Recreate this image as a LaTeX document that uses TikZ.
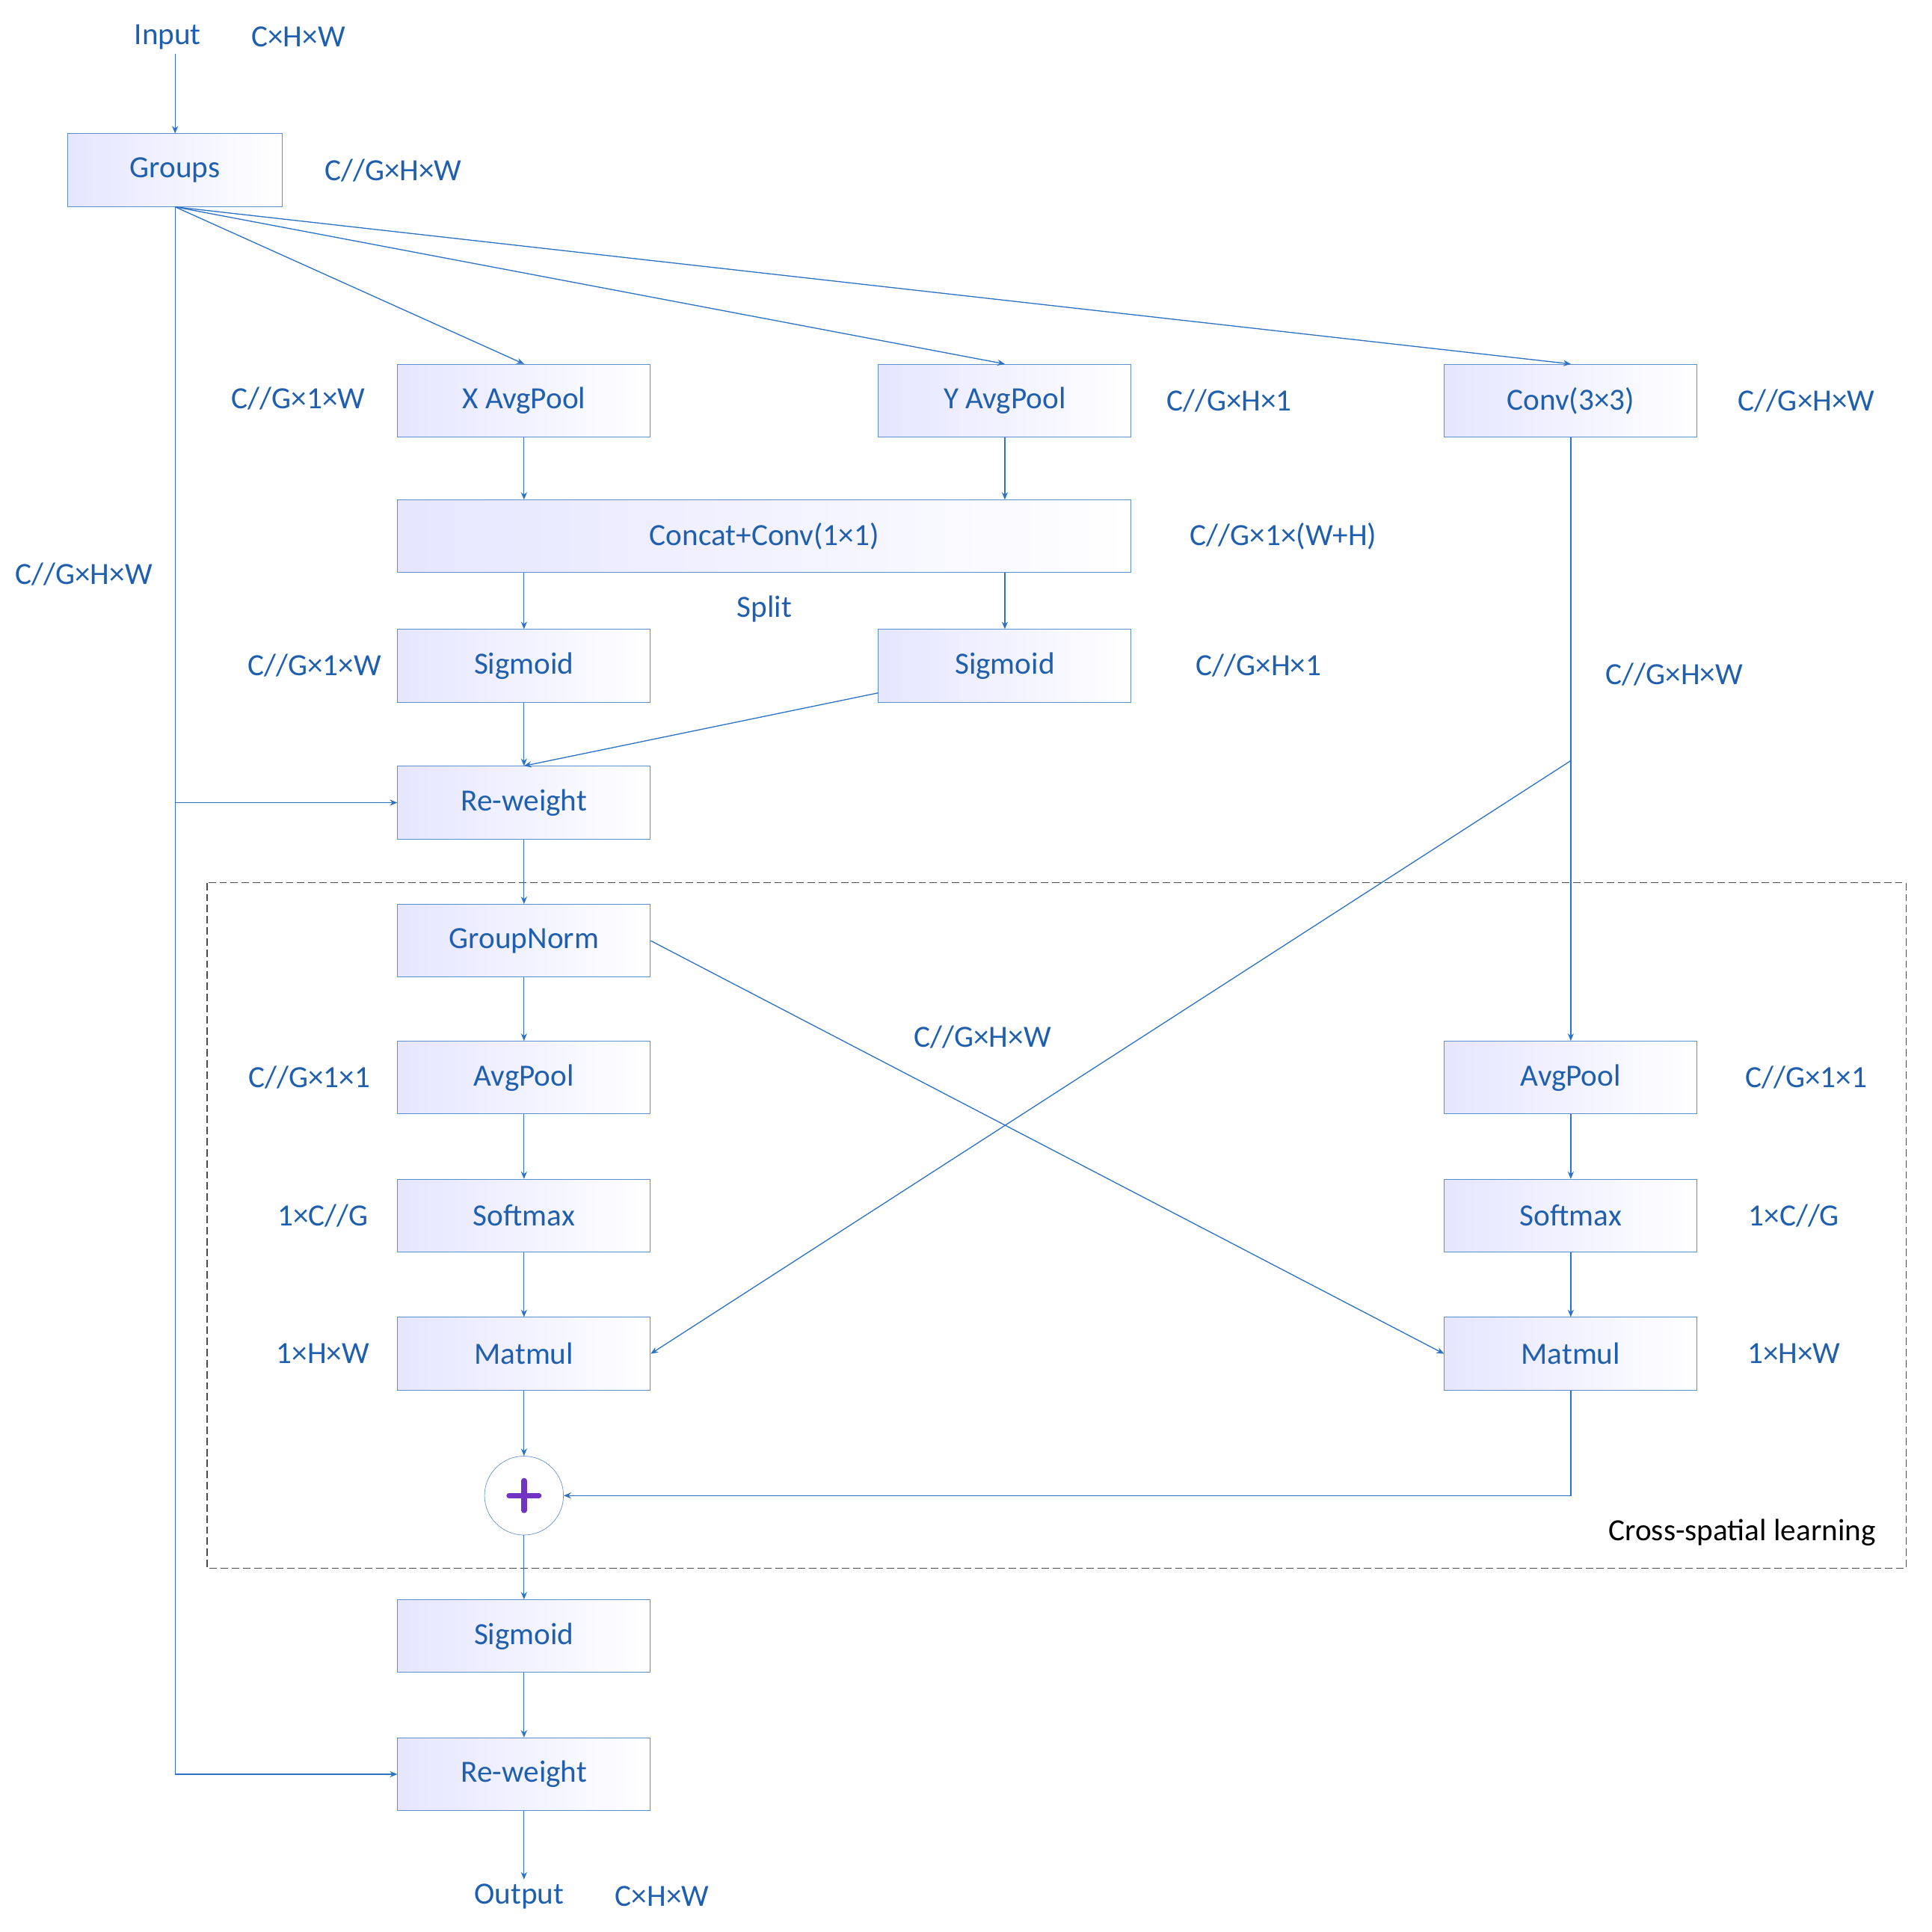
\documentclass[tikz,border=0pt]{standalone}
\usepackage{fontspec}
\setmainfont{Carlito}
\usetikzlibrary{arrows.meta,calc}
\definecolor{ln}{HTML}{2E72C4}
\definecolor{tx}{HTML}{1F5FAD}
\definecolor{bd}{HTML}{5B8FD0}
\begin{document}
\begin{tikzpicture}[x=1pt,y=-1pt,
  every node/.style={font=\fontsize{25}{29}\selectfont, text=tx},
  box/.style={draw=bd, line width=0.6pt, left color=blue!10!white, right color=white, minimum width=205pt, minimum height=59pt, inner sep=0pt},
  arr/.style={draw=ln, line width=0.8pt, -{Stealth[length=6pt,width=5pt]}},
  ln/.style={draw=ln, line width=0.8pt}]
\useasboundingbox (0,0) rectangle (1567,1567);
\node (in) at (136,30) {Input};
\node at (242,30) {C×H×W};
\node[box, minimum width=174pt] (g) at (142,138) {Groups};
\node at (319,138) {C//G×H×W};
\node[box] (xa) at (425,325) {X AvgPool};
\node[box] (ya) at (815,325) {Y AvgPool};
\node[box] (cv) at (1274,325) {Conv(3×3)};
\node at (242,323) {C//G×1×W};
\node at (997,325) {C//G×H×1};
\node at (1465,325) {C//G×H×W};
\node[box, minimum width=595pt] (cc) at (620,435) {Concat+Conv(1×1)};
\node at (1041,435) {C//G×1×(W+H)};
\node at (68,466) {C//G×H×W};
\node at (620,494) {Split};
\node[box] (s1) at (425,540) {Sigmoid};
\node[box] (s2) at (815,540) {Sigmoid};
\node at (255,540) {C//G×1×W};
\node at (1021,540) {C//G×H×1};
\node at (1358,547) {C//G×H×W};
\node[box] (rw) at (425,651) {Re-weight};
\draw[dash pattern=on 6pt off 3pt, draw=black!70, line width=0.8pt] (168,716) rectangle (1546,1272);
\node[text=black] at (1413,1243) {Cross-spatial learning};
\node[box] (gn) at (425,763) {GroupNorm};
\node[box] (ap1) at (425,874) {AvgPool};
\node[box] (sm1) at (425,986) {Softmax};
\node[box] (mm1) at (425,1098) {Matmul};
\node[box] (ap2) at (1274,874) {AvgPool};
\node[box] (sm2) at (1274,986) {Softmax};
\node[box] (mm2) at (1274,1098) {Matmul};
\node at (251,874) {C//G×1×1};
\node at (1465,874) {C//G×1×1};
\node at (262,986) {1×C//G};
\node at (1455,986) {1×C//G};
\node at (262,1098) {1×H×W};
\node at (1455,1098) {1×H×W};
\node at (797,841) {C//G×H×W};
\node[circle, draw=bd, fill=white, minimum size=64pt, inner sep=0pt] (pl) at (425,1213) {};
\draw[violet!60!blue!80, line width=4.5pt, line cap=round] (413,1213) -- (437,1213) (425,1201) -- (425,1225);
\node[box] (s3) at (425,1327) {Sigmoid};
\node[box] (rw2) at (425,1439) {Re-weight};
\node (out) at (421,1538) {Output};
\node at (537,1538) {C×H×W};
% connectors
\draw[arr] (g.north|-in.south) -- (g.north);
\draw[arr] (g.south) -- (xa.north);
\draw[arr] (g.south) -- (ya.north);
\draw[arr] (g.south) -- (cv.north);
\draw[arr] (xa) -- (xa|-cc.north);
\draw[arr] (ya) -- (ya|-cc.north);
\draw[arr] (s1|-cc.south) -- (s1);
\draw[arr] (s2|-cc.south) -- (s2);
\draw[arr] (s1) -- (rw);
\draw[arr] ($(s2.west)+(0,22)$) -- (rw.north);
\coordinate (gl) at (142,1439);
\draw[ln] (g.south) -- (gl);
\draw[arr] (142,651) -- (rw.west);
\draw[arr] (gl) -- (rw2.west);
\draw[arr] (rw) -- (gn);
\draw[arr] (gn) -- (ap1);
\draw[arr] (ap1) -- (sm1);
\draw[arr] (sm1) -- (mm1);
\draw[arr] (mm1) -- (pl);
\coordinate (br) at (1274,617);
\draw[arr] (cv) -- (ap2);
\draw[arr] (br) -- (mm1.east);
\draw[arr] (ap2) -- (sm2);
\draw[arr] (sm2) -- (mm2);
\draw[arr] (gn.east) -- (mm2.west);
\draw[arr] (mm2.south) |- (pl.east);
\draw[arr] (pl) -- (s3);
\draw[arr] (s3) -- (rw2);
\draw[arr] (rw2) -- (rw2.south|-out.north);
\end{tikzpicture}
\end{document}
